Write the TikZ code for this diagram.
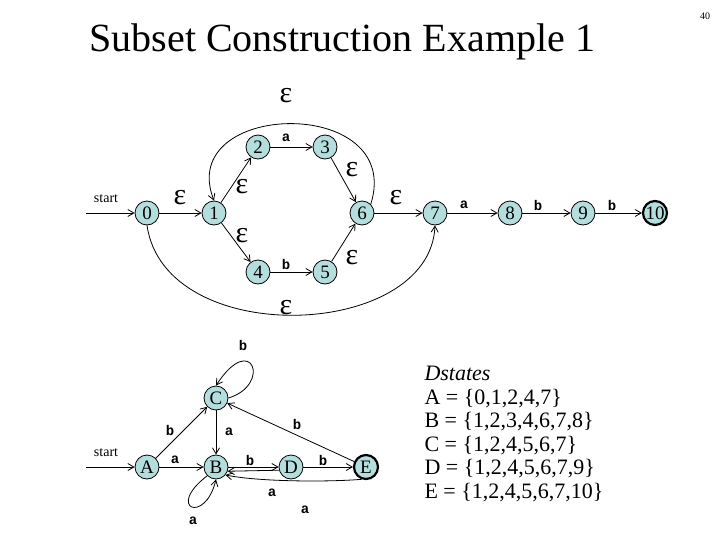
\documentclass[tikz,border=0pt]{standalone}
\usepackage{fontspec}
\setmainfont{Liberation Serif}
\newfontfamily\monob{Liberation Mono}
\usetikzlibrary{arrows.meta}
\definecolor{nfill}{RGB}{180,222,222}
\begin{document}
\begin{tikzpicture}[x=1pt,y=-1pt,
 st/.style={circle,draw,thick,fill=nfill,minimum size=24pt,inner sep=0pt,font=\fontsize{19}{19}\selectfont},
 fin/.style={st,line width=2.2pt},
 ed/.style={thick,-{Straight Barb[length=6pt,width=7pt]}},
 lab/.style={font=\monob\bfseries\fontsize{14}{14}\selectfont},
 eps/.style={font=\fontsize{30}{30}\selectfont}]
\useasboundingbox (0,0) rectangle (728,546);
\node at (705,16) {\fontsize{10}{10}\selectfont 40};
\node[anchor=west] at (86,42) {\fontsize{40}{40}\selectfont Subset Construction Example 1};
% NFA
\node[st] (n0) at (147,213) {0};
\node[st] (n1) at (214,213) {1};
\node[st] (n2) at (258,147) {2};
\node[st] (n3) at (325,147) {3};
\node[st] (n4) at (258,272) {4};
\node[st] (n5) at (325,272) {5};
\node[st] (n6) at (362,213) {6};
\node[st] (n7) at (435,213) {7};
\node[st] (n8) at (510,213) {8};
\node[st] (n9) at (583,213) {9};
\node[fin] (n10) at (655,213) {10};
\coordinate (s0) at (86,213);
\node (sl0) at (106,199) {\fontsize{14}{14}\selectfont start};
\draw[ed] (s0) -- (n0);
\draw[ed] (n0) -- (n1);
\draw[ed] (n1) -- (n2);
\draw[ed] (n1) -- (n4);
\draw[ed] (n2) -- (n3);
\draw[ed] (n4) -- (n5);
\draw[ed] (n3) -- (n6);
\draw[ed] (n5) -- (n6);
\draw[ed] (n6) -- (n7);
\draw[ed] (n7) -- (n8);
\draw[ed] (n8) -- (n9);
\draw[ed] (n9) -- (n10);
\draw[ed] (n6.north east) .. controls (405,95) and (175,100) .. (n1.north);
\draw[ed] (n0.south) .. controls (165,350) and (430,340) .. (n7.south);
\node[eps] (e1) at (286,96) {ε};
\node[eps] (e2) at (286,308) {ε};
\node[eps] (e3) at (180,198) {ε};
\node[eps] (e4) at (242,187) {ε};
\node[eps] (e5) at (242,236) {ε};
\node[eps] (e6) at (352,170) {ε};
\node[eps] (e7) at (352,258) {ε};
\node[eps] (e8) at (396,198) {ε};
\node[lab] (l1) at (286,138) {a};
\node[lab] (l2) at (286,264) {b};
\node[lab] (l3) at (464,205) {a};
\node[lab] (l4) at (538,205) {b};
\node[lab] (l5) at (612,205) {b};
% DFA
\node[st] (A) at (147,467) {A};
\node[st] (B) at (216,467) {B};
\node[st] (C) at (216,398) {C};
\node[st] (D) at (291,467) {D};
\node[fin] (E) at (366,467) {E};
\coordinate (s1) at (86,467);
\node (sl1) at (106,453) {\fontsize{14}{14}\selectfont start};
\draw[ed] (s1) -- (A);
\draw[ed] (A) -- (B);
\draw[ed] (A) -- (C);
\draw[ed] (C) -- (B);
\draw[ed] (B) -- (D);
\draw[ed] (D) -- (E);
\draw[ed] (E) -- (C);
\draw[ed] (D.195) -- (B.-20);
\draw[ed] (E.-110) .. controls (330,482) and (260,482) .. (B.-40);
\draw[ed] (C.east) .. controls (272,385) and (252,330) .. (C.north);
\draw[ed] (B.south west) .. controls (165,508) and (205,525) .. (B.south);
\node[lab] (m1) at (243,345) {b};
\node[lab] (m2) at (193,521) {a};
\node[lab] (m3) at (170,430) {b};
\node[lab] (m4) at (229,432) {a};
\node[lab] (m5) at (175,460) {a};
\node[lab] (m6) at (250,460) {b};
\node[lab] (m7) at (323,460) {b};
\node[lab] (m8) at (297,424) {b};
\node[lab] (m9) at (272,493) {a};
\node[lab] (m10) at (305,510) {a};
\node[anchor=north west,align=left,font=\fontsize{22}{23.5}\selectfont] (ds) at (421,363)
 {\textit{Dstates}\\A = \{0,1,2,4,7\}\\B = \{1,2,3,4,6,7,8\}\\C = \{1,2,4,5,6,7\}\\D = \{1,2,4,5,6,7,9\}\\E = \{1,2,4,5,6,7,10\}};
\end{tikzpicture}
\end{document}
